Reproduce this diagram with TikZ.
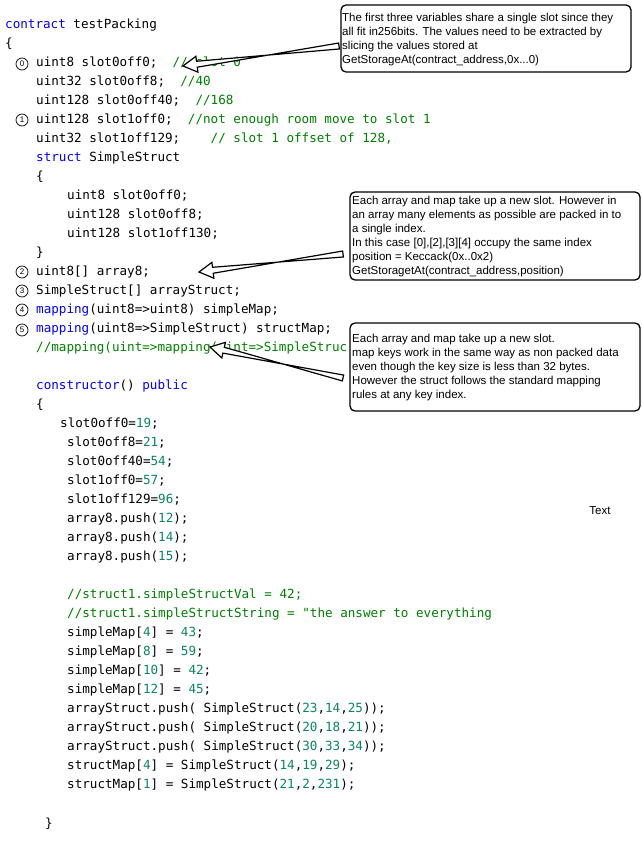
\documentclass[tikz,border=0pt]{standalone}
\usepackage{fontspec}
\setmainfont{Liberation Sans}
\newfontfamily\cf{DejaVu Sans Mono}
\usetikzlibrary{calc}
\definecolor{kwc}{RGB}{0,0,255}
\definecolor{cmc}{RGB}{0,128,0}
\definecolor{nmc}{RGB}{9,136,90}
\newcommand\kw[1]{\textcolor{kwc}{#1}}
\newcommand\cm[1]{\textcolor{cmc}{#1}}
\newcommand\nm[1]{\textcolor{nmc}{#1}}
\newcommand\hollowarr[2]{%
  \coordinate (hA) at (#1); \coordinate (hB) at (#2);
  \coordinate (hP) at ($(hB)!14pt!(hA)$);
  \draw[arr] ($(hA)!3pt!90:(hB)$) -- ($(hP)!3pt!-90:(hB)$) -- ($(hP)!8pt!-90:(hB)$) -- (hB)
     -- ($(hP)!8pt!90:(hB)$) -- ($(hP)!3pt!90:(hB)$) -- ($(hA)!3pt!-90:(hB)$) -- cycle;}
\begin{document}
\begin{tikzpicture}[x=1pt,y=-1pt,
  code/.style={anchor=west,inner sep=0,font=\cf\fontsize{12.6}{14}\selectfont},
  num/.style={circle,draw,inner sep=0,minimum size=12pt,line width=0.7pt,font=\fontsize{8}{8}\selectfont},
  box/.style={draw,rounded corners=5pt,line width=1.3pt},
  btext/.style={anchor=north west,inner sep=0,align=left,font=\fontsize{11.5}{14}\selectfont},
  arr/.style={fill=white,draw=black,line width=1.2pt,line join=miter}]
\useasboundingbox (0,0) rectangle (641,861);
\fill[white] (0,0) rectangle (641,861);
% code
\node[code] (l0) at (5,25) {\kw{contract} testPacking};
\node[code] (l1) at (5,44) {\{};
\node[code] (l2) at (36,63) {uint8 slot0off0;~ \cm{// slot 0}};
\node[code] (l3) at (36,82) {uint32 slot0off8;~ \cm{//40}};
\node[code] (l4) at (36,101) {uint128 slot0off40;~ \cm{//168}};
\node[code] (l5) at (36,120) {uint128 slot1off0;~ \cm{//not enough room move to slot 1}};
\node[code] (l6) at (36,139) {uint32 slot1off129;~~~ \cm{// slot 1 offset of 128,}};
\node[code] (l7) at (36,158) {\kw{struct} SimpleStruct};
\node[code] (l8) at (36,177) {\{};
\node[code] (l9) at (67,196) {uint8 slot0off0;};
\node[code] (l10) at (67,215) {uint128 slot0off8;};
\node[code] (l11) at (67,234) {uint128 slot1off130;};
\node[code] (l12) at (36,253) {\}};
\node[code] (l13) at (36,272) {uint8[] array8;};
\node[code] (l14) at (36,291) {SimpleStruct[] arrayStruct;};
\node[code] (l15) at (36,310) {\kw{mapping}(uint8=>uint8) simpleMap;};
\node[code] (l16) at (36,329) {\kw{mapping}(uint8=>SimpleStruct) structMap;};
\node[code] (l17) at (36,348) {\cm{//mapping(uint=>mapping(uint=>SimpleStruc}};
\node[code] (l18) at (36,386) {\kw{constructor}() \kw{public}};
\node[code] (l19) at (36,405) {\{};
\node[code] (c1) at (60,424) {slot0off0=\nm{19};};
\node[code] (c2) at (67,443) {slot0off8=\nm{21};};
\node[code] (c3) at (67,462) {slot0off40=\nm{54};};
\node[code] (c4) at (67,481) {slot1off0=\nm{57};};
\node[code] (c5) at (67,500) {slot1off129=\nm{96};};
\node[code] (c6) at (67,519) {array8.push(\nm{12});};
\node[code] (c7) at (67,538) {array8.push(\nm{14});};
\node[code] (c8) at (67,557) {array8.push(\nm{15});};
\node[code] (c9) at (67,595) {\cm{//struct1.simpleStructVal = 42;}};
\node[code] (c10) at (67,614) {\cm{//struct1.simpleStructString = "the answer to everything}};
\node[code] (c11) at (67,633) {simpleMap[\nm{4}] = \nm{43};};
\node[code] (c12) at (67,652) {simpleMap[\nm{8}] = \nm{59};};
\node[code] (c13) at (67,671) {simpleMap[\nm{10}] = \nm{42};};
\node[code] (c14) at (67,690) {simpleMap[\nm{12}] = \nm{45};};
\node[code] (c15) at (67,709) {arrayStruct.push( SimpleStruct(\nm{23},\nm{14},\nm{25}));};
\node[code] (c16) at (67,728) {arrayStruct.push( SimpleStruct(\nm{20},\nm{18},\nm{21}));};
\node[code] (c17) at (67,747) {arrayStruct.push( SimpleStruct(\nm{30},\nm{33},\nm{34}));};
\node[code] (c18) at (67,766) {structMap[\nm{4}] = SimpleStruct(\nm{14},\nm{19},\nm{29});};
\node[code] (c19) at (67,785) {structMap[\nm{1}] = SimpleStruct(\nm{21},\nm{2},\nm{231});};
\node[code] (c20) at (45,824) {\}};
% slot numbers
\node[num] (n0) at (22,64) {0};
\node[num] (n1) at (22,120) {1};
\node[num] (n2) at (22,272) {2};
\node[num] (n3) at (22,291) {3};
\node[num] (n4) at (22,310) {4};
\node[num] (n5) at (22,330) {5};
% callouts
\draw[box] (341,5) rectangle (631,72);
\node[btext] (t1) at (342,13) {The first three variables share a single slot since they\\all fit in256bits. The values need to be extracted by\\slicing the values stored at\\GetStorageAt(contract\_address,0x...0)};
\draw[box] (350,192) rectangle (640,280);
\node[btext] (t2) at (352,196) {Each array and map take up a new slot. However in\\an array many elements as possible are packed in to\\a single index.\\In this case [0],[2],[3][4] occupy the same index\\position = Keccack(0x..0x2)\\GetStoragetAt(contract\_address,position)};
\draw[box] (350,323) rectangle (640,411);
\node[btext] (t3) at (352,334) {Each array and map take up a new slot.\\map keys work in the same way as non packed data\\even though the key size is less than 32 bytes.\\However the struct follows the standard mapping\\rules at any key index.};
\node[anchor=center,inner sep=0,font=\fontsize{11.5}{14}\selectfont] (tx) at (600,511) {Text};
% arrows
\coordinate (a1s) at (339,46);
\coordinate (a1e) at (183,66);
\coordinate (a2s) at (343,254);
\coordinate (a2e) at (199,272);
\coordinate (a3s) at (343,378);
\coordinate (a3e) at (210,347);
\hollowarr{a1s}{a1e}
\hollowarr{a2s}{a2e}
\hollowarr{a3s}{a3e}
\end{tikzpicture}
\end{document}
